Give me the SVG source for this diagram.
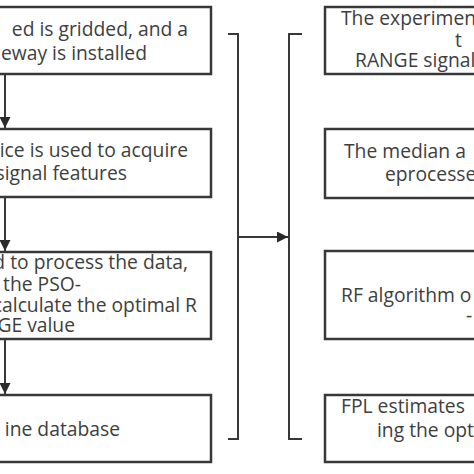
<svg xmlns="http://www.w3.org/2000/svg" width="474" height="474" viewBox="0 0 474 474">
<style>
.box{fill:#fff;stroke:#383838;stroke-width:2.5}
.t{font-family:"Open Sans","Noto Sans",sans-serif;font-size:19.3px;fill:#3e3e3e}
.ln{fill:none;stroke:#383838;stroke-width:2}
</style>
<defs>
<marker id="ah" viewBox="0 0 10 10" refX="10" refY="5" markerWidth="5.5" markerHeight="5.5" orient="auto" markerUnits="strokeWidth">
<path d="M0,0 L10,5 L0,10 z" fill="#2a2a2a"/>
</marker>
</defs>
<rect width="474" height="474" fill="#fff"/>
<g id="connectors">
<line class="ln" x1="5" y1="74" x2="5" y2="128" marker-end="url(#ah)"/>
<line class="ln" x1="5" y1="197" x2="5" y2="251" marker-end="url(#ah)"/>
<line class="ln" x1="5" y1="339" x2="5" y2="394" marker-end="url(#ah)"/>
<polyline class="ln" points="228,34 238,34 238,439 228,439"/>
<line class="ln" x1="238" y1="237" x2="288" y2="237" marker-end="url(#ah)"/>
<polyline class="ln" points="302,34 289,34 289,439 302,439"/>
</g>
<g id="left1">
<rect class="box" x="-20" y="7" width="231" height="67"/>
<text class="t" x="188" y="36" text-anchor="end">ed is gridded, and a</text>
<text class="t" x="147" y="60" text-anchor="end">eway is installed</text>
</g>
<g id="left2">
<rect class="box" x="-20" y="129" width="231" height="68"/>
<text class="t" x="188" y="157" text-anchor="end">rice is used to acquire</text>
<text class="t" x="127" y="180" text-anchor="end">signal features</text>
</g>
<g id="left3">
<rect class="box" x="-20" y="252" width="231" height="87"/>
<text class="t" x="188" y="269" text-anchor="end">ed to process the data,</text>
<text class="t" x="81" y="291" text-anchor="end">the PSO-</text>
<text class="t" x="197" y="312" text-anchor="end">calculate the optimal R</text>
<text class="t" x="75" y="332" text-anchor="end">NGE value</text>
</g>
<g id="left4">
<rect class="box" x="-20" y="395" width="231" height="67"/>
<text class="t" x="120" y="436" text-anchor="end">ine database</text>
</g>
<g id="right1">
<rect class="box" x="325" y="7" width="170" height="67"/>
<text class="t" x="341" y="25">The experiment</text>
<text class="t" x="455" y="47">t</text>
<text class="t" x="355" y="67">RANGE signal</text>
</g>
<g id="right2">
<rect class="box" x="325" y="129" width="170" height="69"/>
<text class="t" x="344" y="158">The median a</text>
<text class="t" x="385" y="181">eprocesse</text>
</g>
<g id="right3">
<rect class="box" x="325" y="251" width="170" height="88"/>
<text class="t" x="341" y="302">RF algorithm o</text>
<text class="t" x="466" y="322">-</text>
</g>
<g id="right4">
<rect class="box" x="325" y="395" width="170" height="67"/>
<text class="t" x="341" y="413">FPL estimates</text>
<text class="t" x="377" y="437">ing the opt</text>
</g>
</svg>
